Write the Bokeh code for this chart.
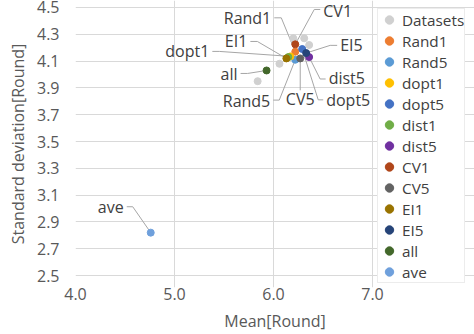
from bokeh.plotting import figure
from bokeh.models import (ColumnDataSource, Legend, LegendItem, Range1d,
                          FixedTicker, LabelSet)
from bokeh.core.properties import value, field
from bokeh.embed import file_html
from bokeh.resources import INLINE

# ---------------- data ----------------
dataset_x = [6.20, 6.31, 6.36, 6.06, 5.84]
dataset_y = [4.27, 4.27, 4.22, 4.08, 3.95]

method_names = ["Rand1", "Rand5", "dopt1", "dopt5", "dist1", "dist5",
                "CV1", "CV5", "EI1", "EI5", "all", "ave"]
method_x = [6.22, 6.22, 6.17, 6.29, 6.15, 6.36, 6.22, 6.27, 6.13, 6.33, 5.93, 4.76]
method_y = [4.17, 4.11, 4.135, 4.19, 4.13, 4.13, 4.225, 4.12, 4.12, 4.16, 4.03, 2.82]

x_ticks = [4.0, 5.0, 6.0, 7.0]
y_ticks = [2.5, 2.7, 2.9, 3.1, 3.3, 3.5, 3.7, 3.9, 4.1, 4.3, 4.5]

# ---------------- style ----------------
dataset_color = "#D0D0D0"
method_colors = ["#ED7D31", "#5B9BD5", "#FFC000", "#4472C4", "#70AD47", "#7030A0",
                 "#B0461A", "#636363", "#997300", "#264478", "#43682B", "#6FA0DC"]

FONT = "Open Sans"
W, H = 474, 334
# plot-area box (pixels) of the axes 4..7 x 2.5..4.5
BOX_L, BOX_R, BOX_T, BOX_B = 75, 372, 7, 276
FRAME_T, FRAME_B = 0, 288          # frame slightly larger so nothing is clipped
ppx = (BOX_R - BOX_L) / (x_ticks[-1] - x_ticks[0])
ppy = (BOX_B - BOX_T) / (y_ticks[-1] - y_ticks[0])
x0 = x_ticks[0]
x1 = x_ticks[0] + (W - BOX_L) / ppx
y1 = y_ticks[-1] + (BOX_T - FRAME_T) / ppy
y0 = y_ticks[0] - (FRAME_B - BOX_B) / ppy

# label placement in screen pixels relative to the point: (align, dx, dy, stub)
label_layout = {
    "Rand1": ("right", -24, -34, [(-21, -34), (-14, -34)]),
    "Rand5": ("right", -25, 41.5, [(-22, 40.5), (-16, 40.5)]),
    "dopt1": ("right", -81, -5, [(-78, -5), (-71, -5)]),
    "dopt5": ("left", 24, 51, [(21, 51), (16, 51)]),
    "dist5": ("left", 19.5, 21, [(16.5, 22), (11, 22)]),
    "CV1":   ("left", 28, -33, [(25, -35), (19, -35)]),
    "CV5":   ("center", 0, 41, [(0, 32), (0, 32)]),
    "EI1":   ("right", -39, -17, [(-36, -17), (-29, -17)]),
    "EI5":   ("left", 34, -7.7, [(31, -7.7), (24, -7.7)]),
    "all":   ("right", -29, 4, [(-26, 3), (-19, 3)]),
    "ave":   ("right", -27, -26, [(-24, -26), (-18, -26)]),
}

p = figure(width=W, height=H, x_range=Range1d(x0, x1), y_range=Range1d(y0, y1),
           output_backend="svg", toolbar_location=None,
           min_border_left=BOX_L, min_border_right=0, min_border_top=FRAME_T,
           min_border_bottom=H - FRAME_B)
p.background_fill_color = "white"
p.border_fill_color = "white"
p.outline_line_color = None

p.xaxis.ticker = FixedTicker(ticks=x_ticks)
p.yaxis.ticker = FixedTicker(ticks=y_ticks)
p.xaxis.major_label_overrides = {t: f"{t:.1f}" for t in x_ticks}
p.yaxis.major_label_overrides = {t: f"{t:.1f}" for t in y_ticks}
p.xgrid.ticker = FixedTicker(ticks=x_ticks)
p.ygrid.ticker = FixedTicker(ticks=y_ticks)
p.xgrid.bounds = (y_ticks[0], y_ticks[-1])
p.ygrid.bounds = (x_ticks[0], x_ticks[-1])
for g in (p.xgrid, p.ygrid):
    g.grid_line_color = "#D9D9D9"
    g.grid_line_width = 1
for ax in (p.xaxis, p.yaxis):
    ax.axis_line_color = None
    ax.major_tick_line_color = None
    ax.minor_tick_line_color = None
    ax.major_tick_out = 0
    ax.major_tick_in = 0
    ax.major_label_text_font = FONT
    ax.major_label_text_font_size = "16px"
    ax.major_label_text_color = "#595959"
    ax.axis_label_text_font = FONT
    ax.axis_label_text_font_size = "16px"
    ax.axis_label_text_font_style = "normal"
    ax.axis_label_text_color = "#595959"
p.xaxis.axis_label = "Mean[Round]"
p.yaxis.axis_label = "Standard deviation[Round]"
p.xaxis.major_label_standoff = 0
p.yaxis.major_label_standoff = 16
p.xaxis.axis_label_standoff = 7
p.yaxis.axis_label_standoff = 5

# leader lines + label positions
lx, ly, la, ln = [], [], [], []
lead_xs, lead_ys = [], []
for name, x, y in zip(method_names, method_x, method_y):
    if name not in label_layout:
        continue
    align, dx, dy, stub = label_layout[name]
    lx.append(x + dx / ppx)
    ly.append(y - dy / ppy)
    la.append(align)
    ln.append(name)
    lead_xs.append([x + sx / ppx for sx, sy in stub] + [x])
    lead_ys.append([y - sy / ppy for sx, sy in stub] + [y])
p.multi_line(lead_xs, lead_ys, line_color="#A6A6A6", line_width=1)

items = []
r = p.scatter(dataset_x, dataset_y, size=7, color=dataset_color)
items.append(LegendItem(label="Datasets", renderers=[r]))
for name, x, y, c in zip(method_names, method_x, method_y, method_colors):
    r = p.scatter([x], [y], size=7, color=c)
    items.append(LegendItem(label=name, renderers=[r]))

lsrc = ColumnDataSource(dict(x=lx, y=ly, text=ln, align=la))
labels = LabelSet(x="x", y="y", text="text", source=lsrc, text_align=field("align"),
                  text_baseline="middle", text_font=value(FONT), text_font_size="16px",
                  text_color="#404040")
p.add_layout(labels)

legend = Legend(items=items, location=(377 - BOX_L, FRAME_B - 284), orientation="vertical")
legend.padding = 0
legend.margin = 0
legend.spacing = 0
legend.glyph_width = 22
legend.glyph_height = 21
legend.label_height = 21
legend.label_standoff = 2
legend.label_text_font = FONT
legend.label_text_font_size = "15.3px"
legend.label_text_color = "#404040"
legend.border_line_color = "#D9D9D9"
legend.background_fill_color = "white"
legend.background_fill_alpha = 1
p.add_layout(legend, "center")

open("out.html", "w").write(file_html(p, INLINE))
